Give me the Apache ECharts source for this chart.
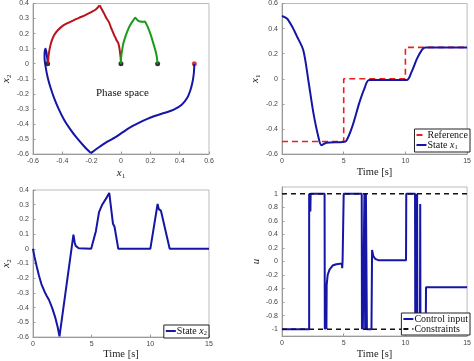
<!DOCTYPE html>
<html><head><meta charset="utf-8">
<script src="https://cdn.jsdelivr.net/npm/echarts@6/dist/echarts.min.js"></script>
<style>html,body{margin:0;padding:0;background:#fff}#c{width:474px;height:361px}</style>
</head><body><div id="c"></div>
<script>
// ---- Phase space (x1, x2) segments ----
const phaseBlue = [[0.5,0],[0.497,-0.06],[0.488,-0.12],[0.472,-0.18],[0.45,-0.23],[0.414,-0.272],[0.36,-0.305],[0.3,-0.326],[0.224,-0.349],[0.16,-0.375],[0.118,-0.395],[0.06,-0.425],[0.013,-0.455],[-0.04,-0.49],[-0.093,-0.518],[-0.15,-0.555],[-0.205,-0.594],[-0.25,-0.55],[-0.304,-0.49],[-0.35,-0.43],[-0.389,-0.37],[-0.425,-0.3],[-0.455,-0.23],[-0.48,-0.16],[-0.5,-0.09],[-0.514,-0.02],[-0.521,0.04],[-0.52,0.08],[-0.514,0.1],[-0.508,0.075],[-0.502,0.03],[-0.497,0]];
const phaseRed = [[-0.497,0],[-0.494,0.05],[-0.486,0.1],[-0.473,0.15],[-0.455,0.19],[-0.431,0.222],[-0.4,0.25],[-0.368,0.268],[-0.32,0.29],[-0.283,0.306],[-0.24,0.325],[-0.199,0.345],[-0.17,0.362],[-0.146,0.388],[-0.13,0.36],[-0.114,0.331],[-0.098,0.3],[-0.082,0.276],[-0.068,0.24],[-0.055,0.21],[-0.045,0.185],[-0.04,0.178],[-0.03,0.156],[-0.019,0.138],[-0.012,0.11],[-0.006,0.07],[-0.002,0.035],[0,0]];
const phaseGreen = [[0,0],[0.001,0.04],[0.006,0.08],[0.015,0.13],[0.03,0.18],[0.046,0.222],[0.062,0.255],[0.08,0.283],[0.097,0.305],[0.107,0.295],[0.116,0.286],[0.13,0.28],[0.145,0.279],[0.162,0.28],[0.172,0.265],[0.185,0.238],[0.2,0.2],[0.213,0.16],[0.225,0.12],[0.237,0.08],[0.245,0.04],[0.249,0]];
const startPoint = [[0.5,0]];
const targetPoints = [[-0.5,0],[0,0],[0.25,0]];

// ---- State x1 vs time ----
const x1T = [0,0.4,0.8,1.2,1.73,2.13,2.54,2.94,3.2,3.6,4.94,5.2,5.7,6.27,6.67,7.07,10.1,10.5,10.94,11.34,11.6,15];
const x1V = [0.5,0.48,0.42,0.34,0.226,-0.01,-0.27,-0.46,-0.53,-0.51,-0.505,-0.497,-0.38,-0.19,-0.08,-0.01,-0.01,0.055,0.16,0.23,0.25,0.25];
const refT = [0,5,10,15];
const refV = [-0.5,0,0.25,0.25];

// ---- State x2 vs time ----
const x2T = [0,0.12,0.32,0.52,0.72,0.98,1.2,1.38,1.65,1.91,2.1,2.26,3.45,3.55,3.64,3.9,4.96,5.1,5.36,5.63,5.9,6.29,6.5,6.82,6.95,7.27,7.3,7.35,10.0,10.62,10.72,10.82,10.9,11.65,15];
const x2V = [0,-0.05,-0.12,-0.185,-0.24,-0.29,-0.325,-0.35,-0.405,-0.47,-0.53,-0.596,0.097,0.045,0.02,0.004,0,0,0.12,0.25,0.3,0.35,0.38,0.17,0.15,0,-0.01,0,0,0.305,0.27,0.28,0.26,0,0];

// ---- Control input u vs time ----
const uT = [0,2.2,2.2,2.28,2.3,2.32,3.45,3.47,3.55,3.57,3.6,3.62,3.7,3.85,4.1,4.4,4.85,4.88,4.91,4.97,5.0,6.46,6.48,6.5,6.53,6.55,6.65,6.68,6.72,6.74,6.78,6.8,6.85,6.88,7.25,7.3,7.4,7.55,7.8,10.05,10.07,10.78,10.8,10.83,10.86,10.89,10.92,10.95,10.97,11.18,11.2,11.22,11.65,11.67,15];
const uV = [-1,-1,1,1,0.74,1,1,-1,-1,-0.9,-1,-0.35,-0.2,-0.12,-0.06,-0.04,-0.03,-0.1,0.01,0.01,1,1,-1,-0.07,-0.1,-1,-1,1,1,-1,-1,1,1,-1,-1,0.17,0.08,0.04,0.02,0.02,1,1,-1,1,-1,1,-1,1,-1,-1,0.85,-1,-1,-0.38,-0.38];
const constraintT = [0,15];
const constraintUpper = [1,1];
const constraintLower = [-1,-1];

const yTicksU = [-1,-0.8,-0.6,-0.4,-0.2,0,0.2,0.4,0.6,0.8,1];

const zip = (a,b)=>a.map((v,i)=>[v,b[i]]);
const splitAtExtreme = (arr, pick) => { let k=0; arr.forEach((p,i)=>{ if (pick(p[1], arr[k][1])) k=i; }); return [arr.slice(0,k+1), arr.slice(k)]; };
const [blueA, blueB] = splitAtExtreme(phaseBlue, (a,b)=>a<b);
const [redA, redB] = splitAtExtreme(phaseRed, (a,b)=>a>b);

const BLUE='#1616a6', SERIF='Liberation Serif', SANS='Liberation Sans';
const tickLabel = {fontSize:7, color:'#444', fontFamily:SANS, margin:4};
const rich = {
  i:{fontFamily:SERIF, fontStyle:'italic', fontSize:11, color:'#222'},
  s:{fontFamily:SERIF, fontSize:7, color:'#222', padding:[6,0,0,0]},
  t:{fontFamily:SERIF, fontSize:10.5, color:'#222'}
};
const legRich = {
  i:{fontFamily:SERIF, fontStyle:'italic', fontSize:10, color:'#111'},
  s:{fontFamily:SERIF, fontSize:6.5, color:'#111', padding:[5,0,0,0]},
  t:{fontFamily:SERIF, fontSize:10, color:'#111'}
};
function axis(gi, extra){
  return Object.assign({
    type:'value', gridIndex:gi,
    axisLine:{show:true, onZero:false, lineStyle:{color:'#999', width:1}},
    axisTick:{show:true, inside:true, length:2.5, lineStyle:{color:'#999'}},
    axisLabel:tickLabel,
    splitLine:{show:false},
    nameLocation:'middle',
    nameTextStyle:{rich:rich, color:'#222', fontFamily:SERIF, fontSize:11}
  }, extra);
}
const timeAxis = (gi,gap)=>axis(gi,{min:0,max:15,interval:5,name:'{t|Time [s]}',nameGap:gap});

const grids = [
  {left:21, top:3, width:188, height:151},
  {left:282, top:3, width:188, height:151},
  {left:21, top:190, width:188, height:152},
  {left:282, top:187, width:188, height:154}
].map(g=>Object.assign(g,{show:true, borderColor:'#bbb', borderWidth:1, backgroundColor:'#fff'}));

const legBase = {orient:'vertical', backgroundColor:'#fff', borderColor:'#222', borderWidth:1,
  borderRadius:0, padding:[1,2,1,1], itemGap:0, itemWidth:10, itemHeight:11,
  itemStyle:{color:'transparent', borderColor:'transparent', borderWidth:0, opacity:0},
  textStyle:{fontFamily:SERIF, fontSize:10, color:'#111', rich:legRich, padding:[0,0,0,-4]},
  formatter: n => ({'State x1':'{t|State }{i|x}{s|1}','State x2':'{t|State }{i|x}{s|2}'}[n] || '{t|'+n+'}')};

const option = {
  animation:false,
  title:{text:'Phase space', left:91, top:83, textStyle:{fontFamily:SERIF, fontSize:11, fontWeight:'normal', color:'#111'}},
  grid:grids,
  xAxis:[
    axis(0,{min:-0.6,max:0.6,interval:0.2,name:'{i|x}{s|1}',nameGap:13}),
    timeAxis(1,13),
    timeAxis(2,12),
    timeAxis(3,13)
  ],
  yAxis:[
    axis(0,{min:-0.6,max:0.4,interval:0.1,name:'{i|x}{s|2}',nameGap:15}),
    axis(1,{min:-0.6,max:0.6,interval:0.2,name:'{i|x}{s|1}',nameGap:18}),
    axis(2,{min:-0.6,max:0.4,interval:0.1,name:'{i|x}{s|2}',nameGap:15}),
    axis(3,{min:-1.1,max:1.1,name:'{i|u}',nameGap:17,
      axisLabel:Object.assign({},tickLabel,{customValues:yTicksU}),
      axisTick:{show:true, inside:true, length:2.5, lineStyle:{color:'#999'}, customValues:yTicksU}})
  ],
  legend:[
    Object.assign({}, legBase, {data:['Reference','State x1'], right:4, top:129}),
    Object.assign({}, legBase, {data:['State x2'], right:265, top:325}),
    Object.assign({}, legBase, {data:['Control input','Constraints'], right:4, top:313})
  ],
  series:[
    {type:'line', xAxisIndex:0, yAxisIndex:0, data:blueA, smooth:0.3, showSymbol:false, symbol:'none', lineStyle:{color:BLUE,width:2}, silent:true},
    {type:'line', xAxisIndex:0, yAxisIndex:0, data:blueB, smooth:0.3, showSymbol:false, symbol:'none', lineStyle:{color:BLUE,width:2}, silent:true},
    {type:'line', xAxisIndex:0, yAxisIndex:0, data:redA, smooth:0.3, showSymbol:false, symbol:'none', lineStyle:{color:'#b8141c',width:2}, silent:true},
    {type:'line', xAxisIndex:0, yAxisIndex:0, data:redB, smooth:0.2, showSymbol:false, symbol:'none', lineStyle:{color:'#b8141c',width:2}, silent:true},
    {type:'line', xAxisIndex:0, yAxisIndex:0, data:phaseGreen, smooth:0.2, showSymbol:false, symbol:'none', lineStyle:{color:'#1a9a1a',width:2}, silent:true},
    {type:'scatter', xAxisIndex:0, yAxisIndex:0, data:startPoint, symbolSize:5, itemStyle:{color:'#cc1111'}},
    {type:'scatter', xAxisIndex:0, yAxisIndex:0, data:targetPoints, symbolSize:5, itemStyle:{color:'#000'}},

    {name:'Reference', type:'line', xAxisIndex:1, yAxisIndex:1, data:zip(refT,refV), step:'end', showSymbol:false, symbol:'none',
      lineStyle:{color:'#ee1c1c', width:1.6, type:[6,4]}, itemStyle:{color:'#ee1c1c'}},
    {name:'State x1', type:'line', xAxisIndex:1, yAxisIndex:1, data:zip(x1T,x1V), smooth:0.3, showSymbol:false, symbol:'none',
      lineStyle:{color:BLUE, width:2}, itemStyle:{color:BLUE}},

    {name:'State x2', type:'line', xAxisIndex:2, yAxisIndex:2, data:zip(x2T,x2V), showSymbol:false, symbol:'none',
      lineStyle:{color:BLUE, width:2}, itemStyle:{color:BLUE}},

    {name:'Control input', type:'line', xAxisIndex:3, yAxisIndex:3, data:zip(uT,uV), showSymbol:false, symbol:'none',
      lineStyle:{color:BLUE, width:2}, itemStyle:{color:BLUE}},
    {name:'Constraints', type:'line', xAxisIndex:3, yAxisIndex:3, data:zip(constraintT,constraintUpper), showSymbol:false, symbol:'none',
      lineStyle:{color:'#111', width:1.3, type:[5,4]}, itemStyle:{color:'#111'}},
    {name:'Constraints', type:'line', xAxisIndex:3, yAxisIndex:3, data:zip(constraintT,constraintLower), showSymbol:false, symbol:'none',
      lineStyle:{color:'#111', width:1.3, type:[5,4]}, itemStyle:{color:'#111'}}
  ]
};
const chart = echarts.init(document.getElementById('c'), null, {renderer:'canvas'});
chart.setOption(option);
</script>
</body></html>
